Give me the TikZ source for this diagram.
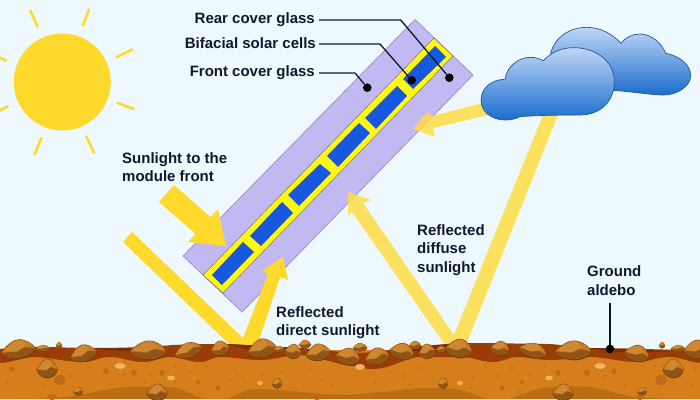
\documentclass[tikz,border=0pt]{standalone}
\usepackage{fontspec}
\setmainfont{Liberation Sans}
\definecolor{sky}{HTML}{EEF8FF}
\definecolor{sunfill}{HTML}{FFD92B}
\definecolor{beam}{HTML}{FFD92B}
\definecolor{softbeamfill}{HTML}{FFDC45}
\definecolor{glassfill}{HTML}{C3B9F2}
\definecolor{glassline}{HTML}{8D88C4}
\definecolor{encap}{HTML}{FFF614}
\definecolor{cellblue}{HTML}{1758E0}
\definecolor{ink}{HTML}{0E1A2B}
\definecolor{soil}{HTML}{D67D1C}
\definecolor{soildeep}{HTML}{B96E14}
\definecolor{crust}{HTML}{9A3C07}
\definecolor{crusttop}{HTML}{7A2B05}
\definecolor{speck}{HTML}{B5620F}
\definecolor{blotch}{HTML}{BE6A16}
\definecolor{palespot}{HTML}{F2B264}
\definecolor{rockbase}{HTML}{C67B25}
\definecolor{rocklight}{HTML}{CF8832}
\definecolor{rockshade}{HTML}{8F5517}
\definecolor{rockedge}{HTML}{7A3D0B}
\definecolor{cloudtop}{HTML}{BFD6F6}
\definecolor{cloudbot}{HTML}{1A6DCE}
\definecolor{cloudline}{HTML}{27598A}
\tikzset{
  labeltext/.style={font=\fontsize{15}{18.7}\selectfont\bfseries, text=ink, inner sep=0pt, align=left},
  leader/.style={draw=ink, line width=1.3pt},
  leaderdot/.style={circle, fill=black, inner sep=0pt, minimum size=8.6pt},
  sunray/.style={draw=sunfill, line width=2.6pt},
  solidbeam/.style={fill=beam},
  softbeam/.style={fill=softbeamfill, fill opacity=0.85},
  cell/.style={fill=cellblue},
  cloudshape/.style={draw=cloudline, line width=0.7pt, top color=cloudtop, bottom color=cloudbot}
}
% A boulder: rim, body, lit upper face and shaded lower facet
\newcommand{\rockat}[5]{%
  \begin{scope}[shift={(#1,#2)},rotate=#5,x=#3pt,y=-#4pt]
    \fill[rockedge] (-1.06,0.2) .. controls (-0.8,-0.35) and (-0.35,-1.05) .. (0.05,-1.05) .. controls (0.5,-1.05) and (0.9,-0.4) .. (1.06,0.2) .. controls (1,0.75) and (0.5,1.12) .. (0.1,1.15) .. controls (-0.4,1.15) and (-0.95,0.8) .. (-1.06,0.2) -- cycle;
    \fill[rockbase] (-1,0.15) .. controls (-0.75,-0.35) and (-0.35,-1) .. (0.05,-1) .. controls (0.5,-1) and (0.85,-0.4) .. (1,0.15) .. controls (0.95,0.6) and (0.5,0.9) .. (0.1,1) .. controls (-0.4,1) and (-0.9,0.7) .. (-1,0.15) -- cycle;
    \fill[rocklight] (-0.85,0.05) .. controls (-0.6,-0.35) and (-0.3,-0.9) .. (0.05,-0.92) .. controls (0.3,-0.92) and (0.45,-0.6) .. (0.5,-0.3) -- (-0.1,0.25) -- cycle;
    \fill[rockshade] (-1,0.15) -- (-0.1,0.3) -- (0.4,-0.1) -- (1,0.15) .. controls (0.95,0.6) and (0.5,0.9) .. (0.1,1) .. controls (-0.4,1) and (-0.9,0.7) .. (-1,0.15) -- cycle;
  \end{scope}}
\begin{document}
\begin{tikzpicture}[x=1pt,y=-1pt]
\useasboundingbox (0,0) rectangle (700,399);
\fill[sky] (0,0) rectangle (700,399);

% Sun and rays
\fill[sunfill] (62.3,82) circle (48.5pt);
\foreach \ax/\ay/\bx/\by in {30/10/37.7/27, 89.3/8.7/82.7/26, 132.7/49.3/116/57.3, 134.3/109.3/117.3/102.7, 94.3/153.3/86/136, 34.3/155/41.7/137.3, 8.3/106/-1/111, 6.7/61/-1/57.3}
  \draw[sunray] (\ax,\ay) -- (\bx,\by);

% Module layers
\fill[glassfill, draw=glassline, line width=0.6pt] (415,19.5) -- (473,75) -- (242,312) -- (183,256) -- cycle;
\fill[encap, draw=glassline!70!black, line width=0.4pt] (434,38) -- (453,56) -- (223,293) -- (203,275) -- cycle;
\fill[cell] (435,46) -- (446,57) -- (413,89) -- (403,79) -- cycle;
\fill[cell] (397,86) -- (407,96) -- (376,129) -- (365,118) -- cycle;
\fill[cell] (359,123) -- (370,133) -- (338,167) -- (327,156) -- cycle;
\fill[cell] (320,164) -- (331,173) -- (299,206) -- (288,195) -- cycle;
\fill[cell] (282,202) -- (293,213) -- (261,246) -- (250,236) -- cycle;
\fill[cell] (243,242) -- (254,252) -- (222,285) -- (212,275) -- cycle;

% Direct beam on the front face
\fill[solidbeam] (174,185) -- (210.5,217) -- (218,209) -- (226,246) -- (188,242) -- (195.5,234) -- (159,202) -- cycle;
% Direct beam bouncing off the ground
\fill[solidbeam] (132,232) -- (243,338) -- (268,274) -- (262,271) -- (283,257) -- (288,280) -- (280,277) -- (259,340) -- (250,352) -- (228,352) -- (228,343) -- (123,242) -- cycle;
% Diffuse beam bouncing off the ground
\fill[softbeam] (558,115) -- (468,340) -- (468,352) -- (445,352) -- (445,345) -- (352,212) -- (348,215) -- (348,192) -- (371,200) -- (363,203) -- (454,335) -- (543,115) -- cycle;
% Diffuse beam from the cloud
\fill[softbeam] (487,102) -- (432,116) -- (427,112) -- (413,129) -- (435,137) -- (433,128) -- (488,115) -- cycle;

% Clouds
\begin{scope}[shift={(460,10)},x=0.3333pt,y=-0.3333pt]
  \path[cloudshape] (272,130) .. controls (285,80) and (330,52) .. (380,52) .. controls (425,52) and (460,75) .. (483,100)
    .. controls (495,82) and (518,72) .. (540,72) .. controls (575,72) and (605,100) .. (617,130)
    .. controls (660,138) and (692,165) .. (692,197) .. controls (692,230) and (650,255) .. (610,255)
    .. controls (570,255) and (510,243) .. (440,240) -- cycle;
  \path[cloudshape] (135,208) .. controls (140,170) and (175,142) .. (210,142) .. controls (225,142) and (240,146) .. (250,152)
    .. controls (272,128) and (305,113) .. (340,113) .. controls (410,113) and (463,155) .. (463,215)
    .. controls (463,275) and (420,315) .. (360,315) .. controls (300,315) and (230,316) .. (180,320)
    .. controls (165,328) and (150,330) .. (135,330) .. controls (95,330) and (63,305) .. (63,270)
    .. controls (63,235) and (95,208) .. (135,208) -- cycle;
\end{scope}

% Ground layers
\fill[soil] (0,350) rectangle (700,399);
\fill[crust] (0,349) .. controls (30,345) and (60,348) .. (93,348) .. controls (120,348) and (150,347) .. (173,345) .. controls (195,344) and (210,344) .. (227,344)
  .. controls (250,345) and (265,347) .. (283,347) .. controls (310,348) and (330,351) .. (350,353) .. controls (365,353) and (378,352) .. (390,350)
  .. controls (420,346) and (450,343) .. (473,343) .. controls (500,343) and (530,344) .. (550,344) .. controls (565,345) and (575,348) .. (590,348)
  .. controls (630,348) and (660,350) .. (700,350) -- (700,363)
  .. controls (685,361) and (680,357) .. (670,357) .. controls (655,357) and (650,362) .. (637,362) .. controls (620,362) and (605,357) .. (590,357)
  .. controls (575,357) and (565,360) .. (550,360) .. controls (535,360) and (530,357) .. (517,357) .. controls (508,357) and (503,362) .. (493,362)
  .. controls (480,362) and (475,357) .. (460,357) .. controls (445,357) and (435,357) .. (417,357) .. controls (400,360) and (390,369) .. (373,369)
  .. controls (362,369) and (358,366) .. (350,366) .. controls (340,365) and (320,357) .. (300,355) .. controls (285,355) and (275,360) .. (260,360)
  .. controls (245,360) and (235,357) .. (220,357) .. controls (212,357) and (208,362) .. (200,362) .. controls (188,362) and (182,357) .. (170,357)
  .. controls (160,357) and (155,362) .. (143,362) .. controls (130,362) and (122,357) .. (110,357) .. controls (98,357) and (95,362) .. (83,362)
  .. controls (65,362) and (50,357) .. (33,357) .. controls (20,358) and (10,363) .. (0,363) -- cycle;
\fill[crusttop] (93,348) .. controls (110,352) and (130,351) .. (150,350) .. controls (140,348) and (115,348) .. (93,348) -- cycle;
\fill[crusttop] (227,344) .. controls (240,349) and (270,353) .. (300,349) .. controls (280,347) and (250,345) .. (227,344) -- cycle;
\fill[crusttop] (390,350) .. controls (410,353) and (440,350) .. (473,343) .. controls (445,344) and (415,347) .. (390,350) -- cycle;
\fill[crusttop] (590,348) .. controls (610,353) and (640,353) .. (670,351) .. controls (640,350) and (615,349) .. (590,348) -- cycle;
\fill[soildeep] (0,399) -- (0,399) .. controls (30,399) and (50,399) .. (67,397) .. controls (90,394) and (110,387) .. (133,387) .. controls (150,387) and (165,386) .. (177,388) .. controls (190,392) and (198,399) .. (207,399)
  -- (227,399) .. controls (235,396) and (245,389) .. (257,389) .. controls (275,389) and (285,391) .. (300,392) .. controls (320,394) and (335,395) .. (350,395)
  .. controls (362,394) and (372,392) .. (383,392) .. controls (398,391) and (410,388) .. (423,388) .. controls (440,388) and (450,388) .. (460,390) .. controls (472,392) and (482,399) .. (490,399)
  -- (510,399) .. controls (525,393) and (540,387) .. (557,387) .. controls (570,387) and (580,386) .. (590,387) .. controls (610,390) and (620,395) .. (633,397) .. controls (655,399) and (680,399) .. (700,399) -- cycle;

% Soil blotches and pale stones
\foreach \bx/\by/\brx/\bry in {60/380/6/5, 12/369/3/2.5, 106/371/2.5/3, 134/373/3/3, 162/373/2.8/3, 198/382/2/2, 218/388/2/3, 558/373/2.8/3, 587/373/3/3, 614/371/2.5/3, 661/380/6/5, 502/388/2/3, 522/382/2/2, 52/397/5/3, 317/397/5/3, 640/397/4/3}
  \fill[blotch] (\bx,\by) ellipse [x radius=\brx, y radius=\bry];
\foreach \px/\py/\prx/\pry in {120/366/5.5/3, 171/378/4/2.5, 260/383/3/2, 360/367/5/3, 600/366/5.5/3, 549/378/4/2.5, 460/383/3/2}
  \fill[palespot] (\px,\py) ellipse [x radius=\prx, y radius=\pry];
\foreach \sx/\sy in {7/382,43/385,70/376,88/366,125/374,145/382,175/366,190/372,206/366,235/370,243/378,250/366,282/372,298/378,310/368,322/380,338/374,30/366,112/385,150/375,172/392,200/393,230/380,262/375,296/391,332/386,375/382,390/372,405/376,420/368,432/380,445/371,473/377,485/366,498/376,512/368,530/375,545/366,570/382,585/392,605/376,625/385,640/372,655/366,680/376,692/385,695/368,520/392,470/388,410/385}
  \fill[speck] (\sx,\sy) circle (0.9pt);

% Surface boulders
\rockat{18}{349}{17}{9}{8}
\rockat{43}{348}{7}{3}{0}
\rockat{59}{345}{3}{3}{0}
\rockat{83}{353}{13}{8}{15}
\rockat{148}{350}{18}{9}{0}
\rockat{188}{350}{14}{7}{18}
\rockat{220}{348}{9}{7}{10}
\rockat{262}{348}{14}{9}{10}
\rockat{279}{349}{5}{3}{0}
\rockat{293}{351}{8}{7}{-10}
\rockat{305}{344}{6}{4}{0}
\rockat{318}{352}{12}{8}{10}
\rockat{348}{356}{12}{8}{-12}
\rockat{360}{347}{7}{4}{0}
\rockat{377}{356}{12}{8}{12}
\rockat{402}{351}{12}{8}{-12}
\rockat{415}{345}{6}{4}{0}
\rockat{427}{351}{8}{7}{10}
\rockat{441}{349}{5}{3}{0}
\rockat{459}{348}{13}{9}{-8}
\rockat{500}{348}{9}{7}{-10}
\rockat{533}{350}{14}{7}{-15}
\rockat{573}{350}{18}{9}{0}
\rockat{637}{353}{12}{8}{-12}
\rockat{662}{345}{3}{3}{0}
\rockat{678}{348}{7}{3}{0}
\rockat{697}{349}{13}{9}{0}
% Buried stones
\rockat{47}{368}{10}{9}{0}
\rockat{157}{392}{10}{8}{0}
\rockat{78}{391}{5}{4}{0}
\rockat{277}{383}{5}{5}{0}
\rockat{443}{383}{5}{5}{0}
\rockat{563}{392}{10}{8}{0}
\rockat{642}{391}{5}{4}{0}
\rockat{673}{368}{10}{9}{0}

% Labels
\node[labeltext, anchor=east] (rearlabel) at (315,20) {Rear cover glass};
\node[labeltext, anchor=east] (bifaciallabel) at (316,43.5) {Bifacial solar cells};
\node[labeltext, anchor=east] (frontlabel) at (315,73) {Front cover glass};
\node[labeltext, anchor=west] (modulefront) at (122,167) {Sunlight to the\\module front};
\node[labeltext, anchor=west] (directlabel) at (276,322.5) {Reflected\\direct sunlight};
\node[labeltext, anchor=west] (diffuselabel) at (417,250) {Reflected\\diffuse\\sunlight};
\node[labeltext, anchor=west] (albedolabel) at (587,280.5) {Ground\\aldebo};

% Leader lines
\node[leaderdot] (reardot) at (449.3,77.7) {};
\node[leaderdot] (bifacialdot) at (411.7,80.3) {};
\node[leaderdot] (frontdot) at (367.3,87.7) {};
\node[leaderdot] (grounddot) at (610,349) {};
\coordinate (rearbend) at (400.7,20);
\coordinate (bifacialbend) at (380,44);
\coordinate (frontbend) at (355,73);
\coordinate (albedoend) at (610,303);
\draw[leader] (rearlabel.east) ++(4,0) -- (rearbend) -- (reardot);
\draw[leader] (bifaciallabel.east) ++(3,0.5) -- (bifacialbend) -- (bifacialdot);
\draw[leader] (frontlabel.east) ++(4,0) -- (frontbend) -- (frontdot);
\draw[leader] (albedoend) -- (grounddot);
\end{tikzpicture}
\end{document}
